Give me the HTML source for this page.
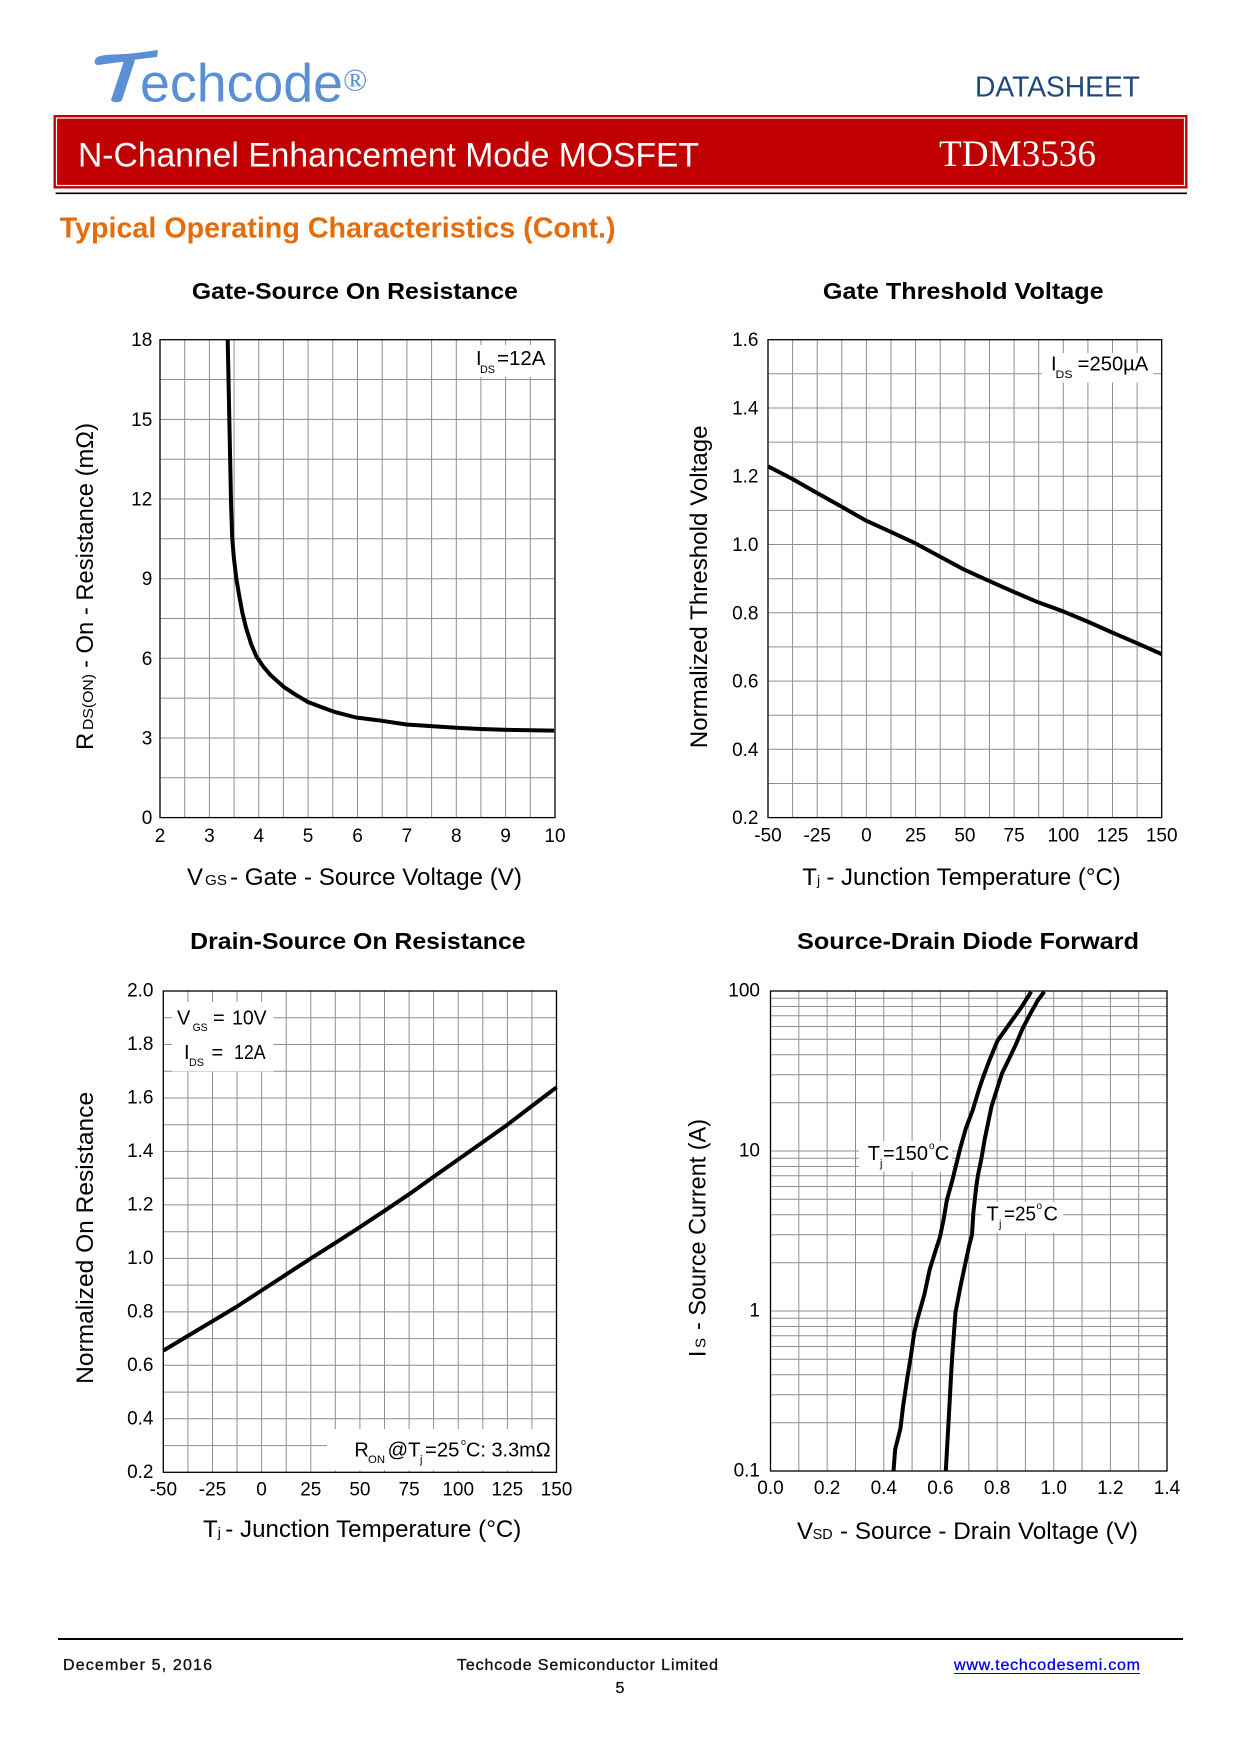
<!DOCTYPE html>
<html><head><meta charset="utf-8"><style>
html,body{margin:0;padding:0;background:#fff;}
svg{display:block;}
text{font-family:"Liberation Sans",Arial,sans-serif;}
.tk{font-size:19px;fill:#000;}
.ttl{font-size:23px;font-weight:bold;fill:#000;}
.ax{font-size:24px;fill:#000;}
.an{font-size:20px;fill:#000;}
.sb{font-size:11px;fill:#000;}
.grid{stroke:#8f8f8f;stroke-width:1;fill:none;}
.bd{stroke:#000;stroke-width:1.3;fill:none;}
.cv{stroke:#000;stroke-width:4;fill:none;stroke-linejoin:round;stroke-linecap:butt;}
.ft{font-size:16px;fill:#111;stroke:#111;stroke-width:0.35;}
</style></head><body>
<svg width="1240" height="1754" viewBox="0 0 1240 1754" xmlns="http://www.w3.org/2000/svg">
<rect width="1240" height="1754" fill="#fff"/>

<!-- Header logo -->
<path d="M95,60 C97,54 110,55 125,54 C140,53 150,51 158,50 L157,57 C148,58 138,59 128,61 C115,63 104,64 99,65 C95,65 94,63 95,60 Z" fill="#5a8fd6"/>
<path d="M124,61 L135,60 L122,100 C120,103 113,103 111,100 Z" fill="#5a8fd6"/>
<text x="140" y="101.7" font-size="54" fill="#5a8fd6" textLength="203" lengthAdjust="spacingAndGlyphs">echcode</text>
<text x="343" y="90.5" font-size="32" fill="#5a8fd6" style="font-family:'Liberation Serif',serif">®</text>
<text x="975" y="96.7" font-size="29" fill="#1f497d" textLength="165" lengthAdjust="spacingAndGlyphs">DATASHEET</text>

<!-- Banner -->
<rect x="53.5" y="115" width="1134" height="73.5" fill="#c00000"/>
<rect x="56.5" y="118" width="1128" height="67.5" fill="none" stroke="#fff" stroke-width="1.2"/>
<text x="78" y="166.7" font-size="34" fill="#fff" textLength="621" lengthAdjust="spacingAndGlyphs">N-Channel Enhancement Mode MOSFET</text>
<text x="939" y="166" font-size="37" fill="#fff" textLength="157" lengthAdjust="spacingAndGlyphs" style="font-family:'Liberation Serif',serif">TDM3536</text>
<line x1="55.6" y1="193.3" x2="1187" y2="193.3" stroke="#000" stroke-width="1.6"/>

<text x="59.6" y="237.3" font-size="29" font-weight="bold" fill="#e46c0a" textLength="556" lengthAdjust="spacingAndGlyphs">Typical Operating Characteristics (Cont.)</text>

<!-- ================= Chart 1 ================= -->
<text class="ttl" x="191.9" y="298.8" textLength="326" lengthAdjust="spacingAndGlyphs">Gate-Source On Resistance</text>
<path class="grid" d="M184.7 339.7V817.6M209.4 339.7V817.6M234.1 339.7V817.6M258.8 339.7V817.6M283.4 339.7V817.6M308.1 339.7V817.6M332.8 339.7V817.6M357.5 339.7V817.6M382.2 339.7V817.6M406.9 339.7V817.6M431.6 339.7V817.6M456.3 339.7V817.6M480.9 339.7V817.6M505.6 339.7V817.6M530.3 339.7V817.6
M160 379.5H555M160 419.4H555M160 459.2H555M160 499H555M160 538.8H555M160 578.7H555M160 618.5H555M160 658.3H555M160 698.1H555M160 738H555M160 777.8H555"/>
<path class="cv" d="M227.7,339.7 L229.4,423.4 L231.1,505.1 L232.2,537.8 L233.9,558.2 L236.3,578.6 L239.1,595 L242.5,613.4 L246,627.6 L251.1,644 L256.3,656.2 L263.2,666.5 L270.1,674.6 L276.9,680.8 L283.8,686.9 L294.2,693.8 L307.9,702 L321.7,707.3 L335.5,712.2 L356.1,717.5 L382,720.8 L406.4,724.5 L431.2,726.1 L456,727.7 L480.4,729 L504.2,729.8 L554.1,730.6"/>
<rect x="471" y="345" width="81" height="32" fill="#fff"/>
<text class="an" x="476" y="365">I</text>
<text class="sb" x="480" y="373" textLength="15" lengthAdjust="spacingAndGlyphs">DS</text>
<text class="an" x="497" y="365" textLength="48.5" lengthAdjust="spacingAndGlyphs">=12A</text>
<rect class="bd" x="160" y="339.7" width="395" height="477.9"/>
<g class="tk" text-anchor="end">
<text x="152.3" y="346.2">18</text><text x="152.3" y="425.9">15</text><text x="152.3" y="505.5">12</text><text x="152.3" y="585.2">9</text><text x="152.3" y="664.8">6</text><text x="152.3" y="744.5">3</text><text x="152.3" y="824.1">0</text>
</g>
<g class="tk" text-anchor="middle">
<text x="160" y="842">2</text><text x="209.4" y="842">3</text><text x="258.8" y="842">4</text><text x="308.1" y="842">5</text><text x="357.5" y="842">6</text><text x="406.9" y="842">7</text><text x="456.3" y="842">8</text><text x="505.6" y="842">9</text><text x="555" y="842">10</text>
</g>
<text class="ax" x="187" y="885">V</text>
<text x="205" y="885" font-size="15" textLength="22" lengthAdjust="spacingAndGlyphs">GS</text>
<text class="ax" x="230" y="885" textLength="292" lengthAdjust="spacingAndGlyphs">- Gate - Source Voltage (V)</text>
<text class="ax" transform="translate(93,750) rotate(-90)">R</text>
<text transform="translate(93,730) rotate(-90)" font-size="15" textLength="56" lengthAdjust="spacingAndGlyphs">DS(ON)</text>
<text class="ax" transform="translate(93,668) rotate(-90)" textLength="245" lengthAdjust="spacingAndGlyphs">- On - Resistance (mΩ)</text>

<!-- ================= Chart 2 ================= -->
<text class="ttl" x="822.9" y="298.8" textLength="280.7" lengthAdjust="spacingAndGlyphs">Gate Threshold Voltage</text>
<path class="grid" d="M792.6 339.7V817.6M817.2 339.7V817.6M841.8 339.7V817.6M866.4 339.7V817.6M891 339.7V817.6M915.6 339.7V817.6M940.2 339.7V817.6M964.9 339.7V817.6M989.5 339.7V817.6M1014.1 339.7V817.6M1038.7 339.7V817.6M1063.3 339.7V817.6M1087.9 339.7V817.6M1112.5 339.7V817.6M1137.1 339.7V817.6
M768 373.8H1161.7M768 408H1161.7M768 442.1H1161.7M768 476.2H1161.7M768 510.4H1161.7M768 544.5H1161.7M768 578.7H1161.7M768 612.8H1161.7M768 646.9H1161.7M768 681.1H1161.7M768 715.2H1161.7M768 749.3H1161.7M768 783.5H1161.7"/>
<path class="cv" d="M768,466.3 L791.6,478.5 L815.3,492 L840.8,506.3 L866,520.6 L890.1,531.6 L914.9,543.1 L939.3,556.2 L964.1,569.6 L988.5,580.7 L1013.3,591.7 L1038.1,602.3 L1062.9,611.3 L1087.4,621.5 L1112.2,632.5 L1137,643.2 L1161.7,654.2"/>
<rect x="1042" y="353" width="111.5" height="29.5" fill="#fff"/>
<text class="an" x="1051" y="370.3">I</text>
<text class="sb" x="1055.5" y="378" textLength="17" lengthAdjust="spacingAndGlyphs">DS</text>
<text class="an" x="1077.7" y="370.3" textLength="70.6" lengthAdjust="spacingAndGlyphs">=250µA</text>
<rect class="bd" x="768" y="339.7" width="393.7" height="477.9"/>
<g class="tk" text-anchor="end">
<text x="758.5" y="346.2">1.6</text><text x="758.5" y="414.5">1.4</text><text x="758.5" y="482.7">1.2</text><text x="758.5" y="551">1.0</text><text x="758.5" y="619.3">0.8</text><text x="758.5" y="687.6">0.6</text><text x="758.5" y="755.8">0.4</text><text x="758.5" y="824.1">0.2</text>
</g>
<g class="tk" text-anchor="middle">
<text x="768" y="841.7">-50</text><text x="817.2" y="841.7">-25</text><text x="866.4" y="841.7">0</text><text x="915.6" y="841.7">25</text><text x="964.9" y="841.7">50</text><text x="1014.1" y="841.7">75</text><text x="1063.3" y="841.7">100</text><text x="1112.5" y="841.7">125</text><text x="1161.7" y="841.7">150</text>
</g>
<text class="ax" x="802.2" y="885">T</text>
<text x="817" y="885" font-size="14">j</text>
<text class="ax" x="826.4" y="885" textLength="294.4" lengthAdjust="spacingAndGlyphs">- Junction Temperature (°C)</text>
<text class="ax" transform="translate(707,748.2) rotate(-90)" textLength="322.8" lengthAdjust="spacingAndGlyphs">Normalized Threshold Voltage</text>

<!-- ================= Chart 3 ================= -->
<text class="ttl" x="190.2" y="948.8" textLength="335.4" lengthAdjust="spacingAndGlyphs">Drain-Source On Resistance</text>
<path class="grid" d="M187.9 991V1472.3M212.5 991V1472.3M237 991V1472.3M261.6 991V1472.3M286.2 991V1472.3M310.8 991V1472.3M335.3 991V1472.3M359.9 991V1472.3M384.5 991V1472.3M409.1 991V1472.3M433.6 991V1472.3M458.2 991V1472.3M482.8 991V1472.3M507.4 991V1472.3M531.9 991V1472.3
M163.3 1017.7H556.5M163.3 1044.5H556.5M163.3 1071.2H556.5M163.3 1098H556.5M163.3 1124.7H556.5M163.3 1151.4H556.5M163.3 1178.2H556.5M163.3 1204.9H556.5M163.3 1231.7H556.5M163.3 1258.4H556.5M163.3 1285.1H556.5M163.3 1311.9H556.5M163.3 1338.6H556.5M163.3 1365.3H556.5M163.3 1392.1H556.5M163.3 1418.8H556.5M163.3 1445.6H556.5"/>
<path class="cv" d="M163.3,1350.6 L187.9,1335.9 L212.5,1321.2 L237,1306.5 L261.6,1290.5 L286.2,1274.4 L310.8,1258.4 L335.3,1242.9 L359.9,1227.1 L384.5,1210.8 L409.1,1194.2 L433.6,1176.8 L458.2,1159.5 L482.8,1142.1 L507.4,1124.7 L531.9,1106 L556.5,1087.3"/>
<rect x="172" y="1002" width="101.5" height="69.4" fill="#fff"/>
<text class="an" x="177" y="1024.4">V</text>
<text class="sb" x="192.6" y="1031" textLength="15" lengthAdjust="spacingAndGlyphs">GS</text>
<text class="an" x="213" y="1024.4">=</text>
<text class="an" x="232" y="1024.4" textLength="34.6" lengthAdjust="spacingAndGlyphs">10V</text>
<text class="an" x="184" y="1059">I</text>
<text class="sb" x="189" y="1066" textLength="15" lengthAdjust="spacingAndGlyphs">DS</text>
<text class="an" x="211.5" y="1059">=</text>
<text class="an" x="234" y="1059" textLength="31.6" lengthAdjust="spacingAndGlyphs">12A</text>
<rect x="327" y="1429" width="229" height="41.5" fill="#fff"/>
<text class="an" x="354.4" y="1456.6">R</text>
<text class="sb" x="368" y="1463" textLength="17" lengthAdjust="spacingAndGlyphs">ON</text>
<text class="an" x="387.5" y="1456.6" textLength="33" lengthAdjust="spacingAndGlyphs">@T</text>
<text class="sb" x="420" y="1463">j</text>
<text class="an" x="425" y="1456.6" textLength="34.5" lengthAdjust="spacingAndGlyphs">=25</text>
<text x="461" y="1445" font-size="9">o</text>
<text class="an" x="466" y="1456.6" textLength="84.7" lengthAdjust="spacingAndGlyphs">C: 3.3mΩ</text>
<rect class="bd" x="163.3" y="991" width="393.2" height="481.3"/>
<g class="tk" text-anchor="end">
<text x="153.5" y="996.5">2.0</text><text x="153.5" y="1050">1.8</text><text x="153.5" y="1103.5">1.6</text><text x="153.5" y="1156.9">1.4</text><text x="153.5" y="1210.4">1.2</text><text x="153.5" y="1263.9">1.0</text><text x="153.5" y="1317.4">0.8</text><text x="153.5" y="1370.8">0.6</text><text x="153.5" y="1424.3">0.4</text><text x="153.5" y="1477.8">0.2</text>
</g>
<g class="tk" text-anchor="middle">
<text x="163.3" y="1495.5">-50</text><text x="212.5" y="1495.5">-25</text><text x="261.6" y="1495.5">0</text><text x="310.8" y="1495.5">25</text><text x="359.9" y="1495.5">50</text><text x="409.1" y="1495.5">75</text><text x="458.2" y="1495.5">100</text><text x="507.4" y="1495.5">125</text><text x="556.5" y="1495.5">150</text>
</g>
<text class="ax" x="203" y="1537">T</text>
<text x="217.7" y="1537" font-size="14">j</text>
<text class="ax" x="225.3" y="1537" textLength="296" lengthAdjust="spacingAndGlyphs">- Junction Temperature (°C)</text>
<text class="ax" transform="translate(93,1383.9) rotate(-90)" textLength="292" lengthAdjust="spacingAndGlyphs">Normalized On Resistance</text>

<!-- ================= Chart 4 ================= -->
<text class="ttl" x="797" y="948.8" textLength="342" lengthAdjust="spacingAndGlyphs">Source-Drain Diode Forward</text>
<path class="grid" d="M798.8 991V1471M827.1 991V1471M855.5 991V1471M883.8 991V1471M912.1 991V1471M940.4 991V1471M968.8 991V1471M997.1 991V1471M1025.4 991V1471M1053.7 991V1471M1082 991V1471M1110.4 991V1471M1138.7 991V1471
M770.5 1422.8H1167M770.5 1394.7H1167M770.5 1374.7H1167M770.5 1359.2H1167M770.5 1346.5H1167M770.5 1335.8H1167M770.5 1326.5H1167M770.5 1318.3H1167M770.5 1311H1167
M770.5 1262.8H1167M770.5 1234.7H1167M770.5 1214.7H1167M770.5 1199.2H1167M770.5 1186.5H1167M770.5 1175.8H1167M770.5 1166.5H1167M770.5 1158.3H1167M770.5 1151H1167
M770.5 1102.8H1167M770.5 1074.7H1167M770.5 1054.7H1167M770.5 1039.2H1167M770.5 1026.5H1167M770.5 1015.8H1167M770.5 1006.5H1167M770.5 998.3H1167"/>
<path class="cv" d="M893.5,1471 L895.2,1449.2 L900.4,1428.8 L903.1,1406.3 L907.3,1377.7 L910.7,1357.3 L914.2,1332.8 L917.6,1318.5 L924.5,1294 L929.7,1269.5 L934.8,1253.1 L940,1236.8 L943.4,1220.5 L946.9,1200 L952,1181.6 L955.5,1167.4 L960.6,1146.9 L965.8,1128.5 L972.7,1110.2 L978.9,1089.7 L983,1077.5 L989.9,1059.1 L997.5,1040.7 L1010.6,1022.3 L1020.9,1008 L1031.2,991.7"/>
<path class="cv" d="M945.8,1471 L952,1359.3 L955.5,1312.4 L960.6,1285.8 L965.8,1261.3 L969.3,1245 L972,1234.8 L973.4,1212.3 L976.1,1187.8 L977.9,1175.5 L981.3,1159.2 L984.8,1138.8 L988.2,1122.4 L991.6,1106.1 L996.8,1089.7 L1002,1073.4 L1008.9,1059.1 L1015.7,1044.8 L1022.6,1028.5 L1031.2,1012.1 L1038.1,999.9 L1044.3,991.7"/>
<rect x="859" y="1141" width="93" height="30.5" fill="#fff"/>
<text class="an" x="867.7" y="1160">T</text>
<text class="sb" x="880" y="1167">j</text>
<text class="an" x="883" y="1160" textLength="45" lengthAdjust="spacingAndGlyphs">=150</text>
<text x="929" y="1149" font-size="10">o</text>
<text class="an" x="934.8" y="1160">C</text>
<rect x="981.3" y="1202" width="82" height="30.7" fill="#fff"/>
<text class="an" x="986.5" y="1220.5">T</text>
<text class="sb" x="999" y="1227.5">j</text>
<text class="an" x="1004" y="1220.5" textLength="32" lengthAdjust="spacingAndGlyphs">=25</text>
<text x="1036.5" y="1209" font-size="10">o</text>
<text class="an" x="1043.5" y="1220.5">C</text>
<rect class="bd" x="770.5" y="991" width="396.5" height="480"/>
<g class="tk" text-anchor="end">
<text x="760" y="996.5">100</text><text x="760" y="1156.5">10</text><text x="760" y="1316.5">1</text><text x="760" y="1476.5">0.1</text>
</g>
<g class="tk" text-anchor="middle">
<text x="770.5" y="1494">0.0</text><text x="827.1" y="1494">0.2</text><text x="883.8" y="1494">0.4</text><text x="940.4" y="1494">0.6</text><text x="997.1" y="1494">0.8</text><text x="1053.7" y="1494">1.0</text><text x="1110.4" y="1494">1.2</text><text x="1167" y="1494">1.4</text>
</g>
<text class="ax" x="797" y="1539">V</text>
<text x="812.6" y="1539" font-size="15" textLength="20" lengthAdjust="spacingAndGlyphs">SD</text>
<text class="ax" x="840" y="1539" textLength="298" lengthAdjust="spacingAndGlyphs">- Source - Drain Voltage (V)</text>
<text class="ax" transform="translate(705.5,1357.3) rotate(-90)">I</text>
<text transform="translate(705.5,1348) rotate(-90)" font-size="15">S</text>
<text class="ax" transform="translate(705.5,1330) rotate(-90)" textLength="211" lengthAdjust="spacingAndGlyphs">- Source Current (A)</text>

<!-- Footer -->
<line x1="58" y1="1639" x2="1183" y2="1639" stroke="#000" stroke-width="2"/>
<text class="ft" x="63" y="1670" textLength="149" lengthAdjust="spacing">December 5, 2016</text>
<text class="ft" x="457" y="1670" textLength="261" lengthAdjust="spacing">Techcode Semiconductor Limited</text>
<text class="ft" x="620" y="1693" text-anchor="middle">5</text>
<text x="954" y="1670" font-size="16" fill="#0000ee" stroke="#0000ee" stroke-width="0.3" textLength="186" lengthAdjust="spacing">www.techcodesemi.com</text>
<line x1="954" y1="1673.5" x2="1140" y2="1673.5" stroke="#0000ee" stroke-width="1"/>
</svg>
</body></html>
